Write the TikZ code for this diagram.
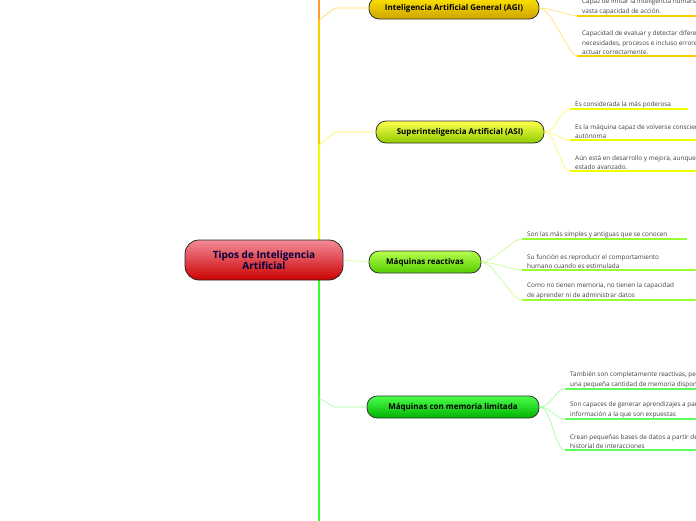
\documentclass[tikz,border=0pt]{standalone}
\usepackage{fontspec}
\setmainfont{Open Sans}
\begin{document}
\begin{tikzpicture}[x=1pt,y=-1pt,
  topic/.style={draw=black!80,line width=0.8pt,rounded corners=10pt,minimum height=22pt,font=\bfseries\fontsize{8}{9}\selectfont,inner sep=0pt},
  leaf/.style={anchor=south west,align=left,font=\fontsize{6.4}{9.6}\selectfont,text=black!75,inner sep=0pt},
  ul/.style={line width=1.6pt},
  br/.style={line width=0.6pt}]
\useasboundingbox (0,0) rectangle (696,520);
\clip (0,0) rectangle (696,520);
\definecolor{cOr}{HTML}{FF9933}
\definecolor{cGo}{HTML}{FFCC00}
\definecolor{cYe}{HTML}{EEFF00}
\definecolor{cGr}{HTML}{33FF33}
\definecolor{cLi}{HTML}{99FF33}
% trunk
\draw[cOr,line width=2.5pt] (319,-2) -- (319,20);
\draw[cGo,line width=2.5pt] (319,20) -- (319,145);
\draw[cYe,line width=2.5pt] (319,145) -- (319,255);
\draw[cGr,line width=2.5pt] (319,280) -- (319,522);
% root
\node[draw=black!85,line width=0.8pt,rounded corners=14pt,minimum width=158pt,minimum height=40pt,top color=red!55!purple!45!white,bottom color=red!80!black,text=blue!25!black,font=\bfseries\fontsize{10}{11}\selectfont,align=center,inner sep=0pt] (root) at (264,260) {Tipos de Inteligencia\\Artificial};
% topics
\node[topic,minimum width=170pt,top color=yellow!80!orange,bottom color=yellow!60!orange!80!black] (agi) at (454,8) {Inteligencia Artificial General (AGI)};
\node[topic,minimum width=168pt,top color=yellow!70!white,bottom color=yellow!70!green!80!black] (asi) at (460,132) {Superinteligencia Artificial (ASI)};
\node[topic,minimum width=112pt,top color=green!40!yellow!70!white,bottom color=green!60!yellow!80!black] (rea) at (425,262) {Máquinas reactivas};
\node[topic,minimum width=172pt,top color=green!70!white,bottom color=green!70!black] (mem) at (453,407) {Máquinas con memoria limitada};
% connectors from trunk
\coordinate (tA) at (319,20); \coordinate (tA2) at (335,8);
\coordinate (tB) at (319,145); \coordinate (tB2) at (335,132);
\coordinate (tD) at (319,398); \coordinate (tD2) at (334,407);
\draw[cGo!70,br] (tA) -- (tA2) -- (agi.west);
\draw[cYe!80!black!60,br,yellow!70] (tB) -- (tB2) -- (asi.west);
\draw[cLi!50,br] (root.east) -- (rea.west);
\draw[cGr!50,br] (tD) -- (tD2) -- (mem.west);
% AGI leaves
\node[leaf] (a1) at (582,15) {Capaz de imitar la inteligencia humana y tiene una\\vasta capacidad de acción.};
\node[leaf] (a2) at (582,55) {Capacidad de evaluar y detectar diferentes\\necesidades, procesos e incluso errores para\\actuar correctamente.};
\coordinate (a1u) at (577,16); \coordinate (a2u) at (577,56);
\draw[cGo,ul] (a1u) -- ++(125,0); \draw[cGo,ul] (a2u) -- ++(125,0);
\draw[cGo!60,br] (agi.east) .. controls +(12,0) and +(-8,0) .. (a1u);
\draw[cGo!60,br] (agi.east) .. controls +(12,0) and +(-8,0) .. (a2u);
% ASI leaves
\node[leaf] (s1) at (575,108) {Es considerada la más poderosa};
\node[leaf] (s2) at (575,139) {Es la máquina capaz de volverse consciente y\\autónoma};
\node[leaf] (s3) at (575,170) {Aún está en desarrollo y mejora, aunque en un\\estado avanzado.};
\coordinate (s1u) at (570,109); \coordinate (s2u) at (570,140); \coordinate (s3u) at (570,171);
\draw[cYe,ul] (s1u) -- (688,109); \draw[cYe,ul] (s2u) -- ++(130,0); \draw[cYe,ul] (s3u) -- ++(130,0);
\foreach \c in {s1u,s2u,s3u}{\draw[yellow!60,br] (asi.east) .. controls +(12,0) and +(-10,0) .. (\c);}
% reactive leaves
\node[leaf] (r1) at (527,238) {Son las más simples y antiguas que se conocen};
\node[leaf] (r2) at (527,269) {Su función es reproducir el comportamiento\\humano cuando es estimulada};
\node[leaf] (r3) at (527,299) {Como no tienen memoria, no tienen la capacidad\\de aprender ni de administrar  datos};
\coordinate (r1u) at (522,239); \coordinate (r2u) at (522,270); \coordinate (r3u) at (522,300);
\draw[cLi,ul] (r1u) -- (687,239); \draw[cLi,ul] (r2u) -- ++(180,0); \draw[cLi,ul] (r3u) -- ++(180,0);
\foreach \c in {r1u,r2u,r3u}{\draw[cLi!60,br] (rea.east) .. controls +(12,0) and +(-10,0) .. (\c);}
% memory leaves
\node[leaf] (m1) at (570,388) {También son completamente reactivas, pero tienen\\una pequeña cantidad de memoria disponible};
\node[leaf] (m2) at (570,418) {Son capaces de generar aprendizajes a partir de la\\información a la que son expuestas};
\node[leaf] (m3) at (570,449) {Crean pequeñas bases de datos a partir de un\\historial de interacciones};
\coordinate (m1u) at (565,389); \coordinate (m2u) at (565,419); \coordinate (m3u) at (565,450);
\draw[cGr!80,ul] (m1u) -- ++(140,0); \draw[cGr!80,ul] (m2u) -- ++(140,0); \draw[cGr!80,ul] (m3u) -- ++(140,0);
\foreach \c in {m1u,m2u,m3u}{\draw[cGr!50,br] (mem.east) .. controls +(12,0) and +(-10,0) .. (\c);}
\end{tikzpicture}
\end{document}
